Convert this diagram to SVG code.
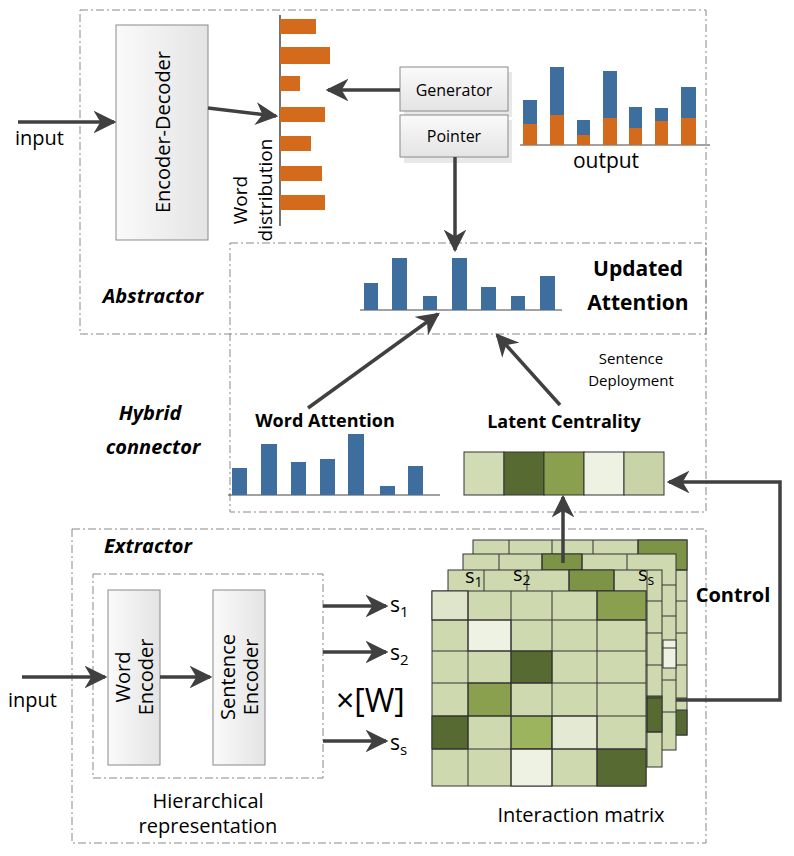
<svg xmlns="http://www.w3.org/2000/svg" width="794" height="856" viewBox="0 0 794 856">
<defs>
<linearGradient id="box" x1="0" y1="0" x2="1" y2="0"><stop offset="0" stop-color="#fafafa"/><stop offset="1" stop-color="#e4e4e4"/></linearGradient>
<linearGradient id="bvert" x1="0" y1="0" x2="0" y2="1"><stop offset="0" stop-color="#fafafa"/><stop offset="1" stop-color="#e4e4e4"/></linearGradient>
<marker id="ah" viewBox="0 0 10 10" refX="9" refY="5" markerWidth="6.5" markerHeight="6.5" orient="auto"><path d="M0,0 L10,5 L0,10 L3,5 z" fill="#404040"/></marker>
</defs>
<style>
.dash{fill:none;stroke:#888;stroke-width:1;stroke-dasharray:8,3,2,3}
.bx{stroke:#8a8a8a;stroke-width:1}
.ar{stroke:#404040;stroke-width:3.5;fill:none;marker-end:url(#ah)}
.t{font-family:"Open Sans","Liberation Sans",Arial,sans-serif;fill:#000}
.o{fill:#d46b1c}
.b{fill:#3e6e9e}
.c{stroke:#333;stroke-width:1}
.l{fill:#cfd9b0}
</style>
<rect class="dash" x="80" y="10" width="626" height="324"/>
<rect class="dash" x="230" y="243" width="476" height="269" fill="#fff"/>
<rect class="dash" x="72" y="529" width="634" height="314"/>
<rect class="dash" x="93" y="574" width="230" height="204"/>

<g id="encdec"><rect class="bx" x="116" y="25" width="92" height="215" fill="url(#box)"/>
<text class="t" font-size="20" transform="translate(170,132) rotate(-90)" text-anchor="middle">Encoder-Decoder</text></g>
<text class="t" font-size="20" x="15" y="145">input</text>

<g id="worddist">
<line x1="280" y1="15" x2="280" y2="226" stroke="#444" stroke-width="1.5"/>
<rect class="o" x="280" y="19" width="36" height="15"/><rect class="o" x="280" y="47" width="50" height="17"/><rect class="o" x="280" y="76" width="20" height="15"/><rect class="o" x="280" y="107" width="45" height="15"/><rect class="o" x="280" y="136" width="31" height="15"/><rect class="o" x="280" y="166" width="42" height="15"/><rect class="o" x="280" y="195" width="45" height="15"/>
<text class="t" font-size="19" transform="translate(247,200) rotate(-90)" text-anchor="middle">Word</text>
<text class="t" font-size="19" transform="translate(272,190) rotate(-90)" text-anchor="middle">distribution</text></g>

<g id="generator"><rect x="404" y="72" width="108" height="45" fill="#e8e8e8"/><rect class="bx" x="400" y="67" width="108" height="44" fill="url(#bvert)"/><text class="t" font-size="16" x="454" y="96" text-anchor="middle">Generator</text></g>
<g id="pointer"><rect x="404" y="120" width="108" height="43" fill="#e8e8e8"/><rect class="bx" x="400" y="115" width="108" height="42" fill="url(#bvert)"/><text class="t" font-size="16" x="454" y="142" text-anchor="middle">Pointer</text></g>

<g id="output">
<line x1="520" y1="145" x2="710" y2="145" stroke="#444" stroke-width="1"/>
<rect class="b" x="523" y="100" width="14" height="45"/><rect class="o" x="523" y="124" width="14" height="21"/>
<rect class="b" x="550" y="67" width="14" height="78"/><rect class="o" x="550" y="115" width="14" height="30"/>
<rect class="b" x="577" y="120" width="13" height="25"/><rect class="o" x="577" y="135" width="13" height="10"/>
<rect class="b" x="603" y="71" width="14" height="74"/><rect class="o" x="603" y="118" width="14" height="27"/>
<rect class="b" x="629" y="107" width="13" height="38"/><rect class="o" x="629" y="128" width="13" height="17"/>
<rect class="b" x="655" y="108" width="13" height="37"/><rect class="o" x="655" y="121" width="13" height="24"/>
<rect class="b" x="681" y="87" width="15" height="58"/><rect class="o" x="681" y="118" width="15" height="27"/>
<text class="t" font-size="21" x="606" y="168" text-anchor="middle">output</text></g>

<g id="updated">
<line x1="360" y1="310" x2="562" y2="310" stroke="#444" stroke-width="1"/>
<rect class="b" x="364" y="283" width="14" height="27"/><rect class="b" x="392" y="258" width="15" height="52"/><rect class="b" x="423" y="296" width="14" height="14"/><rect class="b" x="452" y="258" width="15" height="52"/><rect class="b" x="481" y="287" width="15" height="23"/><rect class="b" x="511" y="296" width="14" height="14"/><rect class="b" x="540" y="276" width="15" height="34"/>
<text class="t" font-size="21" font-weight="bold" x="638" y="276" text-anchor="middle">Updated</text>
<text class="t" font-size="21" font-weight="bold" x="638" y="310" text-anchor="middle">Attention</text></g>

<text class="t" font-size="20" font-weight="bold" font-style="italic" x="153" y="303" text-anchor="middle">Abstractor</text>
<text class="t" font-size="20" font-weight="bold" font-style="italic" x="150" y="420" text-anchor="middle">Hybrid</text>
<text class="t" font-size="20" font-weight="bold" font-style="italic" x="153" y="454" text-anchor="middle">connector</text>
<text class="t" font-size="20" font-weight="bold" font-style="italic" x="148" y="553" text-anchor="middle">Extractor</text>
<text class="t" font-size="15" x="631" y="364" text-anchor="middle">Sentence</text>
<text class="t" font-size="15" x="631" y="386" text-anchor="middle">Deployment</text>

<g id="wordatt">
<text class="t" font-size="18" font-weight="bold" x="325" y="427" text-anchor="middle">Word Attention</text>
<line x1="228" y1="495" x2="440" y2="495" stroke="#444" stroke-width="1"/>
<rect class="b" x="232" y="468" width="15" height="27"/><rect class="b" x="261" y="444" width="16" height="51"/><rect class="b" x="291" y="462" width="15" height="33"/><rect class="b" x="320" y="459" width="15" height="36"/><rect class="b" x="348" y="434" width="16" height="61"/><rect class="b" x="380" y="486" width="15" height="9"/><rect class="b" x="408" y="466" width="15" height="29"/></g>

<g id="latent">
<text class="t" font-size="18" font-weight="bold" x="564" y="428" text-anchor="middle">Latent Centrality</text>
<g class="c"><rect x="464" y="452" width="40" height="43" fill="#d2dcb4"/><rect x="504" y="452" width="40" height="43" fill="#566a32"/><rect x="544" y="452" width="40" height="43" fill="#8aa04e"/><rect x="584" y="452" width="40" height="43" fill="#eef2e2"/><rect x="624" y="452" width="40" height="43" fill="#c8d4a8"/></g></g>

<g id="wordenc"><rect class="bx" x="108" y="590" width="52" height="175" fill="url(#box)"/>
<text class="t" font-size="20" transform="translate(130,677) rotate(-90)" text-anchor="middle">Word</text>
<text class="t" font-size="20" transform="translate(153,677) rotate(-90)" text-anchor="middle">Encoder</text></g>
<g id="sentenc"><rect class="bx" x="213" y="590" width="52" height="175" fill="url(#box)"/>
<text class="t" font-size="20" transform="translate(235,677) rotate(-90)" text-anchor="middle">Sentence</text>
<text class="t" font-size="20" transform="translate(258,677) rotate(-90)" text-anchor="middle">Encoder</text></g>
<text class="t" font-size="20" x="8" y="707">input</text>
<text class="t" font-size="20" x="208" y="808" text-anchor="middle">Hierarchical</text>
<text class="t" font-size="20" x="208" y="833" text-anchor="middle">representation</text>
<text class="t" font-size="20" x="581" y="822" text-anchor="middle">Interaction matrix</text>
<text class="t" font-size="21" x="390" y="612">s<tspan font-size="15" dy="5">1</tspan></text>
<text class="t" font-size="21" x="390" y="660">s<tspan font-size="15" dy="5">2</tspan></text>
<text class="t" font-size="21" x="390" y="750">s<tspan font-size="15" dy="5">s</tspan></text>
<text class="t" font-size="32" x="336" y="712">×[W]</text>

<g id="matrix" class="c">
<rect x="473" y="540" width="214" height="195" class="l"/><rect x="638" y="540" width="49" height="30" fill="#7d9446"/><rect x="638" y="710" width="49" height="25" fill="#566a32"/>
<path d="M473,570H687M473,601H687M473,633H687M473,665H687M473,698H687M509,540V570M552,540V570M593,540V570M638,540V735" fill="none"/>
<rect x="463" y="554" width="213" height="196" class="l"/><rect x="542" y="554" width="40" height="16" fill="#7d9446"/><rect x="663" y="640" width="13" height="28" fill="#eef2e2"/>
<path d="M463,585H676M463,616H676M463,648H676M463,680H676M463,712H676M499,554V570M542,554V570M582,554V570M627,554V750" fill="none"/>
<rect x="448" y="570" width="214" height="197" class="l"/><rect x="569" y="570" width="45" height="21" fill="#7d9446"/><rect x="647" y="696" width="15" height="36" fill="#566a32"/>
<path d="M448,601H662M448,633H662M448,665H662M448,698H662M448,732H662M484,570V591M527,570V591M569,570V591M614,570V591M647,570V767" fill="none"/>
<rect x="432" y="591" width="214" height="195" class="l"/>
<rect x="432" y="591" width="36" height="29" fill="#dfe5cb"/><rect x="597" y="591" width="49" height="29" fill="#8aa04e"/>
<rect x="468" y="620" width="43" height="31" fill="#eef2e2"/>
<rect x="511" y="651" width="41" height="32" fill="#566a32"/>
<rect x="468" y="683" width="43" height="33" fill="#8aa04e"/>
<rect x="432" y="716" width="36" height="33" fill="#566a32"/><rect x="511" y="716" width="41" height="33" fill="#9cb45e"/><rect x="552" y="716" width="45" height="33" fill="#e4e9d4"/>
<rect x="511" y="749" width="41" height="37" fill="#eef2e2"/><rect x="597" y="749" width="49" height="37" fill="#566a32"/>
<path d="M432,620H646M432,651H646M432,683H646M432,716H646M432,749H646M468,591V786M511,591V786M552,591V786M597,591V786" fill="none"/>
</g>
<text class="t" font-size="20" x="465" y="583">s<tspan font-size="14" dy="4">1</tspan></text>
<text class="t" font-size="20" x="513" y="581">s<tspan font-size="14" dy="4">2</tspan></text>
<text class="t" font-size="20" x="638" y="581">s<tspan font-size="14" dy="4">s</tspan></text>
<text class="t" font-size="20" font-weight="bold" x="733" y="602" text-anchor="middle">Control</text>

<g id="connectors">
<line class="ar" x1="18" y1="122" x2="114" y2="122"/>
<line class="ar" x1="208" y1="108" x2="276" y2="116"/>
<line class="ar" x1="400" y1="90" x2="328" y2="90"/>
<line class="ar" x1="455" y1="157" x2="455" y2="250"/>
<line class="ar" x1="308" y1="408" x2="438" y2="314"/>
<line class="ar" x1="560" y1="405" x2="497" y2="335"/>
<line class="ar" x1="563" y1="563" x2="563" y2="497"/>
<polyline class="ar" points="676,700 780,700 780,482 669,482"/>
<line class="ar" x1="22" y1="677" x2="105" y2="677"/>
<line class="ar" x1="160" y1="677" x2="210" y2="677"/>
<line class="ar" x1="323" y1="606" x2="386" y2="606"/>
<line class="ar" x1="323" y1="652" x2="386" y2="652"/>
<line class="ar" x1="323" y1="741" x2="386" y2="741"/>
</g>
</svg>
